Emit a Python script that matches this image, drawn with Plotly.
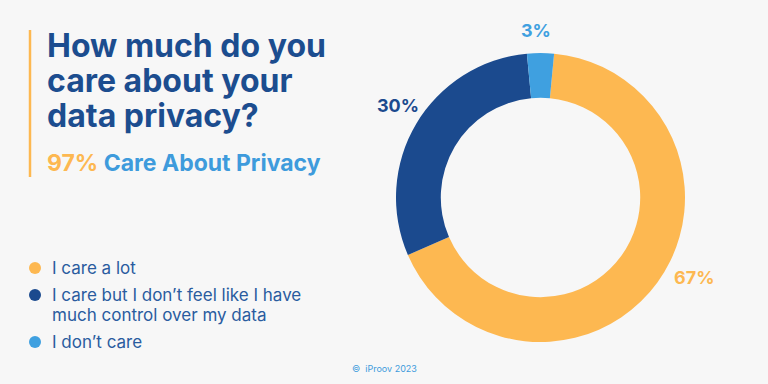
import plotly.graph_objects as go

labels = ["I care a lot", "I care but I don’t feel like I have much control over my data", "I don’t care"]
legend_lines = [["I care a lot"], ["I care but I don’t feel like I have", "much control over my data"], ["I don’t care"]]
values = [67, 30, 3]
colors = ["#FDB851", "#1B4A8E", "#3FA0E0"]
pct_text = ["67%", "30%", "3%"]
title_lines = ["How much do you", "care about your", "data privacy?"]

W, H = 768, 384
BG = "#F7F7F7"
FONT = "Inter"

def px(x):
    return x / W

def py(y):
    return 1 - y / H

fig = go.Figure()
fig.add_trace(go.Pie(
    labels=labels,
    values=values,
    textinfo="none",
    marker=dict(colors=colors, line=dict(width=0)),
    hole=0.69,
    sort=False,
    direction="clockwise",
    rotation=5.4,
    showlegend=False,
    domain=dict(x=[px(396), px(685)], y=[py(342), py(53)]),
    hoverinfo="label+percent",
))

annotations = []
# Percentage labels placed around the ring (pixel anchors)
label_pos = [(694, 277), (398, 105), (536, 30)]
for t, c, (lx, ly) in zip(pct_text, colors, label_pos):
    annotations.append(dict(
        x=px(lx), y=py(ly), xref="paper", yref="paper",
        xanchor="center", yanchor="middle", showarrow=False,
        text=f"<b>{t}</b>", font=dict(family=FONT, size=18, color=c),
    ))

# Title
for i, t in enumerate(title_lines):
    annotations.append(dict(
        x=px(45), y=py(45 + i * 35), xref="paper", yref="paper",
        xanchor="left", yanchor="middle", showarrow=False,
        text=f"<b>{t}</b>", font=dict(family=FONT, size=32, color="#1C4D8F"),
    ))
annotations.append(dict(
    x=px(45), y=py(163), xref="paper", yref="paper",
    xanchor="left", yanchor="middle", showarrow=False,
    text="<b><span style='color:#FDB851'>97%</span> Care About Privacy</b>",
    font=dict(family=FONT, size=23, color="#3E9BDC"),
))

# Legend
legend_y = [268, 295, 342]
for i, lines in enumerate(legend_lines):
    y0 = legend_y[i]
    for j, ln in enumerate(lines):
        annotations.append(dict(
            x=px(50), y=py(y0 + j * 20), xref="paper", yref="paper",
            xanchor="left", yanchor="middle", showarrow=False,
            text=ln, font=dict(family=FONT, size=17, color="#2A5C9F"),
        ))

# Footer
annotations.append(dict(
    x=px(384), y=py(368), xref="paper", yref="paper",
    xanchor="center", yanchor="middle", showarrow=False,
    text="©  iProov 2023", font=dict(family=FONT, size=9, color="#3E9BDC"),
))

shapes = [dict(type="line", xref="paper", yref="paper",
               x0=px(30), x1=px(30), y0=py(30), y1=py(177),
               line=dict(color="#FDB851", width=2.5))]
for i, c in enumerate(colors):
    cy = legend_y[i]
    r = 6
    shapes.append(dict(type="circle", xref="paper", yref="paper",
                       x0=px(35 - r), x1=px(35 + r), y0=py(cy + r), y1=py(cy - r),
                       fillcolor=c, line=dict(width=0)))

fig.update_layout(
    width=W, height=H,
    margin=dict(l=0, r=0, t=0, b=0),
    paper_bgcolor=BG, plot_bgcolor=BG,
    annotations=annotations, shapes=shapes,
    font=dict(family=FONT),
)

fig.write_html("out.html")
